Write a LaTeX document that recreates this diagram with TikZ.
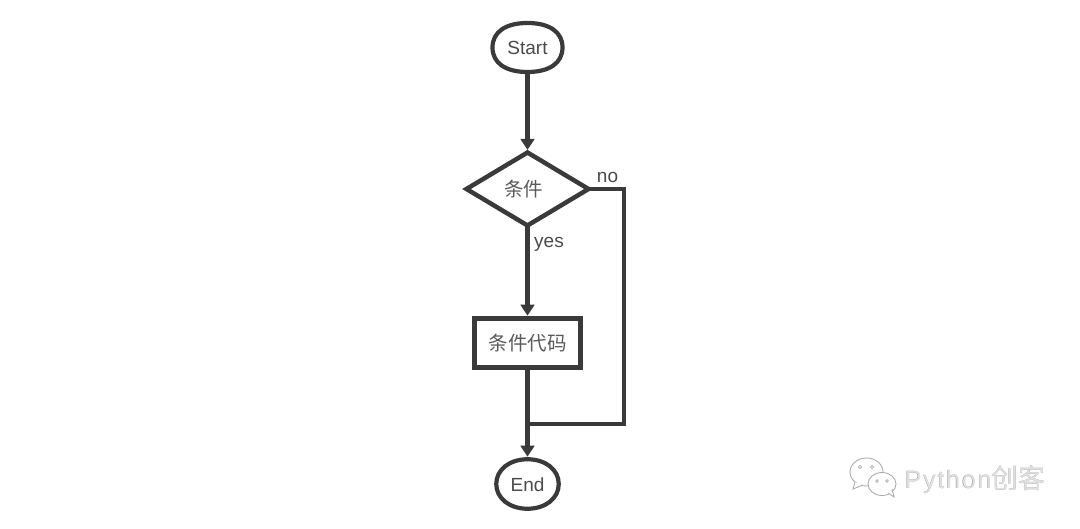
\documentclass[tikz,border=0pt]{standalone}
\usepackage{fontspec}
\setmainfont{Liberation Sans}
\newfontfamily\cjk{Noto Sans CJK SC}
\usetikzlibrary{shapes.geometric,arrows.meta}
\definecolor{ln}{HTML}{3A3A3A}
\definecolor{tx}{HTML}{4A4A4A}
\definecolor{cj}{HTML}{5A5A5A}
\tikzset{
  every node/.style={font=\fontsize{19}{22}\selectfont,text=tx,outer sep=0pt,inner sep=0pt},
  term/.style={rectangle},
  outline/.style={draw=ln,line width=4.2pt},
  cond/.style={draw=ln,line width=4.5pt,diamond,aspect=1.67,minimum width=122pt,minimum height=73pt},
  proc/.style={draw=ln,line width=5pt,rectangle,minimum width=105.5pt,minimum height=49.5pt},
  flow/.style={draw=ln,line width=4.5pt,-{Triangle[length=11pt,width=13.5pt]},shorten >=2.5pt},
  wire/.style={draw=ln,line width=4.5pt},
  cjktext/.style={font=\fontsize{19.5}{22}\selectfont,text=cj},
  bubble/.style={draw=black!32,fill=white,line width=0.9pt},
  dot/.style={draw=black!32,line width=0.7pt,fill=white}
}
% #1 node, #2 vertical handle, #3 horizontal handle
\newcommand{\ovaloutline}[3]{%
  \draw[outline] (#1.west)
    .. controls +(0,-#2) and +(-#3,0) .. (#1.north)
    .. controls +(#3,0) and +(0,-#2) .. (#1.east)
    .. controls +(0,#2) and +(#3,0) .. (#1.south)
    .. controls +(-#3,0) and +(0,#2) .. (#1.west) -- cycle;}
\begin{document}
\begin{tikzpicture}[x=1pt,y=-1pt]
\useasboundingbox (0,0) rectangle (1080,529);
\node[term,minimum width=70pt,minimum height=49pt] (start) at (527.5,47.5) {Start};
\ovaloutline{start}{15.5}{22}
\node[cond,cjktext] (c) at (527.5,189) {\cjk 条件\kern8pt};
\node[proc,cjktext] (p) at (527.5,343) {\cjk 条件代码};
\node[term,minimum width=62.5pt,minimum height=49.5pt,text height=14pt,text depth=-1pt] (end) at (527.5,484) {End};
\ovaloutline{end}{14.3}{18}
\coordinate (corner1) at (624,189);
\coordinate (corner2) at (624,424);
\coordinate (join) at (527.5,424);
\draw[flow] (start.south) -- (c.north);
\draw[flow] (c.south) -- (p.north);
\draw[flow] (p.south) -- (end.north);
\draw[wire,line join=miter] (c.east) -- (corner1) -- (corner2) -- (join);
\node[anchor=base] (no) at (607.5,182.5) {no};
\node[anchor=base] (yes) at (549,247.5) {yes};
% watermark
\draw[bubble] (866.5,472) ellipse [x radius=16.5,y radius=14];
\draw[bubble] (855,482) -- (853,489) -- (863,485);
\draw[bubble] (882,484) ellipse [x radius=14,y radius=11.5];
\draw[bubble] (888,493) -- (894,497) -- (892,489);
\draw[dot] (860,467) circle (1.6);
\draw[dot] (872,467) circle (1.6);
\draw[dot] (877,481) circle (1.3);
\draw[dot] (887,481) circle (1.3);
\node[anchor=base west,font=\fontsize{25}{28}\selectfont,text=black!45] (wm1) at (904.6,488.6) {\addfontfeature{LetterSpace=7}Python\cjk\fontsize{27}{28}\selectfont 创客};
\node[anchor=base west,font=\fontsize{25}{28}\selectfont,text=black!12] (wm2) at (905,489) {\addfontfeature{LetterSpace=7}Python\cjk\fontsize{27}{28}\selectfont 创客};
\end{tikzpicture}
\end{document}
